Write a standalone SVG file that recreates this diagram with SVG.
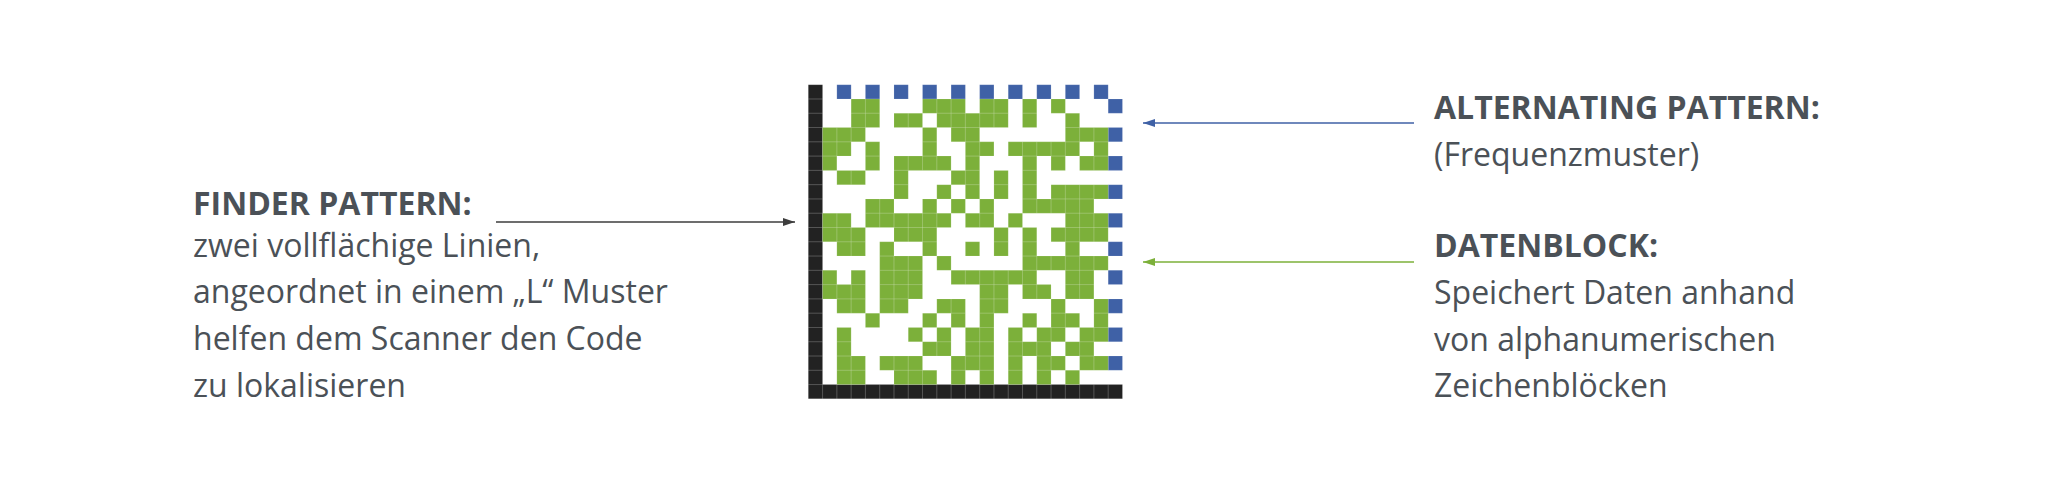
<svg xmlns="http://www.w3.org/2000/svg" width="2048" height="490" viewBox="0 0 2048 490">
<style>
.t{font-family:"Open Sans","Noto Sans","Liberation Sans",sans-serif;font-size:32px;fill:#4b5157}
.h{font-weight:700}
.cell{stroke:#ffffff;stroke-opacity:0.18;stroke-width:0.05}
.k{fill:#222222}.b{fill:#3f61a6}.g{fill:#7cb03a}
.ln{fill:none;stroke-width:1.4}
</style>
<defs>
<marker id="ak" markerUnits="userSpaceOnUse" markerWidth="13" markerHeight="9" refX="12" refY="4" orient="auto"><path d="M0 0L12 4L0 8z" fill="#3d3d3d"/></marker>
<marker id="ab" markerUnits="userSpaceOnUse" markerWidth="13" markerHeight="9" refX="12" refY="4" orient="auto"><path d="M0 0L12 4L0 8z" fill="#3f61a6"/></marker>
<marker id="ag" markerUnits="userSpaceOnUse" markerWidth="13" markerHeight="9" refX="12" refY="4" orient="auto"><path d="M0 0L12 4L0 8z" fill="#7cb03a"/></marker>
</defs>
<rect width="2048" height="490" fill="#ffffff"/>
<g id="datamatrix" transform="translate(808.3 84.7) scale(14.28)">
<path class="cell k" d="M0 0h1v1h-1zM0 1h1v1h-1zM0 2h1v1h-1zM0 3h1v1h-1zM0 4h1v1h-1zM0 5h1v1h-1zM0 6h1v1h-1zM0 7h1v1h-1zM0 8h1v1h-1zM0 9h1v1h-1zM0 10h1v1h-1zM0 11h1v1h-1zM0 12h1v1h-1zM0 13h1v1h-1zM0 14h1v1h-1zM0 15h1v1h-1zM0 16h1v1h-1zM0 17h1v1h-1zM0 18h1v1h-1zM0 19h1v1h-1zM0 20h1v1h-1zM0 21h1v1h-1zM1 21h1v1h-1zM2 21h1v1h-1zM3 21h1v1h-1zM4 21h1v1h-1zM5 21h1v1h-1zM6 21h1v1h-1zM7 21h1v1h-1zM8 21h1v1h-1zM9 21h1v1h-1zM10 21h1v1h-1zM11 21h1v1h-1zM12 21h1v1h-1zM13 21h1v1h-1zM14 21h1v1h-1zM15 21h1v1h-1zM16 21h1v1h-1zM17 21h1v1h-1zM18 21h1v1h-1zM19 21h1v1h-1zM20 21h1v1h-1zM21 21h1v1h-1z"/>
<path class="cell b" d="M2 0h1v1h-1zM4 0h1v1h-1zM6 0h1v1h-1zM8 0h1v1h-1zM10 0h1v1h-1zM12 0h1v1h-1zM14 0h1v1h-1zM16 0h1v1h-1zM18 0h1v1h-1zM20 0h1v1h-1zM21 1h1v1h-1zM21 3h1v1h-1zM21 5h1v1h-1zM21 7h1v1h-1zM21 9h1v1h-1zM21 11h1v1h-1zM21 13h1v1h-1zM21 15h1v1h-1zM21 17h1v1h-1zM21 19h1v1h-1z"/>
<path class="cell g" d="M3 1h1v1h-1zM4 1h1v1h-1zM8 1h1v1h-1zM9 1h1v1h-1zM10 1h1v1h-1zM12 1h1v1h-1zM13 1h1v1h-1zM15 1h1v1h-1zM17 1h1v1h-1z
M3 2h1v1h-1zM4 2h1v1h-1zM6 2h1v1h-1zM7 2h1v1h-1zM9 2h1v1h-1zM10 2h1v1h-1zM11 2h1v1h-1zM12 2h1v1h-1zM13 2h1v1h-1zM15 2h1v1h-1zM18 2h1v1h-1z
M1 3h1v1h-1zM2 3h1v1h-1zM3 3h1v1h-1zM8 3h1v1h-1zM10 3h1v1h-1zM11 3h1v1h-1zM18 3h1v1h-1zM19 3h1v1h-1zM20 3h1v1h-1z
M1 4h1v1h-1zM2 4h1v1h-1zM4 4h1v1h-1zM8 4h1v1h-1zM11 4h1v1h-1zM12 4h1v1h-1zM14 4h1v1h-1zM15 4h1v1h-1zM16 4h1v1h-1zM17 4h1v1h-1zM18 4h1v1h-1zM20 4h1v1h-1z
M1 5h1v1h-1zM4 5h1v1h-1zM6 5h1v1h-1zM7 5h1v1h-1zM8 5h1v1h-1zM9 5h1v1h-1zM11 5h1v1h-1zM15 5h1v1h-1zM17 5h1v1h-1zM19 5h1v1h-1zM20 5h1v1h-1z
M2 6h1v1h-1zM3 6h1v1h-1zM6 6h1v1h-1zM10 6h1v1h-1zM11 6h1v1h-1zM13 6h1v1h-1zM15 6h1v1h-1z
M6 7h1v1h-1zM9 7h1v1h-1zM11 7h1v1h-1zM13 7h1v1h-1zM15 7h1v1h-1zM17 7h1v1h-1zM18 7h1v1h-1zM19 7h1v1h-1zM20 7h1v1h-1z
M4 8h1v1h-1zM5 8h1v1h-1zM8 8h1v1h-1zM10 8h1v1h-1zM12 8h1v1h-1zM15 8h1v1h-1zM16 8h1v1h-1zM17 8h1v1h-1zM18 8h1v1h-1zM19 8h1v1h-1z
M1 9h1v1h-1zM2 9h1v1h-1zM4 9h1v1h-1zM5 9h1v1h-1zM6 9h1v1h-1zM7 9h1v1h-1zM8 9h1v1h-1zM9 9h1v1h-1zM11 9h1v1h-1zM12 9h1v1h-1zM14 9h1v1h-1zM18 9h1v1h-1zM19 9h1v1h-1zM20 9h1v1h-1z
M1 10h1v1h-1zM2 10h1v1h-1zM3 10h1v1h-1zM6 10h1v1h-1zM7 10h1v1h-1zM8 10h1v1h-1zM13 10h1v1h-1zM15 10h1v1h-1zM17 10h1v1h-1zM18 10h1v1h-1zM19 10h1v1h-1zM20 10h1v1h-1z
M2 11h1v1h-1zM3 11h1v1h-1zM5 11h1v1h-1zM8 11h1v1h-1zM11 11h1v1h-1zM13 11h1v1h-1zM15 11h1v1h-1zM18 11h1v1h-1z
M5 12h1v1h-1zM6 12h1v1h-1zM7 12h1v1h-1zM9 12h1v1h-1zM15 12h1v1h-1zM16 12h1v1h-1zM17 12h1v1h-1zM18 12h1v1h-1zM19 12h1v1h-1zM20 12h1v1h-1z
M1 13h1v1h-1zM3 13h1v1h-1zM5 13h1v1h-1zM6 13h1v1h-1zM7 13h1v1h-1zM10 13h1v1h-1zM11 13h1v1h-1zM12 13h1v1h-1zM13 13h1v1h-1zM14 13h1v1h-1zM15 13h1v1h-1zM18 13h1v1h-1zM19 13h1v1h-1z
M1 14h1v1h-1zM2 14h1v1h-1zM3 14h1v1h-1zM5 14h1v1h-1zM6 14h1v1h-1zM7 14h1v1h-1zM12 14h1v1h-1zM13 14h1v1h-1zM15 14h1v1h-1zM16 14h1v1h-1zM18 14h1v1h-1zM19 14h1v1h-1z
M2 15h1v1h-1zM3 15h1v1h-1zM5 15h1v1h-1zM6 15h1v1h-1zM9 15h1v1h-1zM10 15h1v1h-1zM12 15h1v1h-1zM13 15h1v1h-1zM17 15h1v1h-1zM20 15h1v1h-1z
M4 16h1v1h-1zM8 16h1v1h-1zM10 16h1v1h-1zM12 16h1v1h-1zM15 16h1v1h-1zM17 16h1v1h-1zM18 16h1v1h-1zM20 16h1v1h-1z
M2 17h1v1h-1zM7 17h1v1h-1zM9 17h1v1h-1zM11 17h1v1h-1zM12 17h1v1h-1zM14 17h1v1h-1zM16 17h1v1h-1zM17 17h1v1h-1zM19 17h1v1h-1zM20 17h1v1h-1z
M2 18h1v1h-1zM8 18h1v1h-1zM9 18h1v1h-1zM11 18h1v1h-1zM12 18h1v1h-1zM14 18h1v1h-1zM15 18h1v1h-1zM16 18h1v1h-1zM18 18h1v1h-1zM19 18h1v1h-1z
M2 19h1v1h-1zM3 19h1v1h-1zM5 19h1v1h-1zM6 19h1v1h-1zM7 19h1v1h-1zM10 19h1v1h-1zM11 19h1v1h-1zM12 19h1v1h-1zM14 19h1v1h-1zM16 19h1v1h-1zM17 19h1v1h-1zM19 19h1v1h-1zM20 19h1v1h-1z
M2 20h1v1h-1zM3 20h1v1h-1zM6 20h1v1h-1zM7 20h1v1h-1zM8 20h1v1h-1zM10 20h1v1h-1zM12 20h1v1h-1zM14 20h1v1h-1zM16 20h1v1h-1zM18 20h1v1h-1z"/>
</g>
<g id="connectors">
<line class="ln" x1="496" y1="222" x2="795" y2="222" stroke="#3d3d3d" marker-end="url(#ak)"/>
<line class="ln" x1="1414" y1="123" x2="1143" y2="123" stroke="#3f61a6" marker-end="url(#ab)"/>
<line class="ln" x1="1414" y1="262" x2="1143" y2="262" stroke="#7cb03a" marker-end="url(#ag)"/>
</g>
<g id="finder-label">
<text class="t h" x="193" y="215">FINDER PATTERN:</text>
<text class="t" x="193" y="257">zwei vollflächige Linien,</text>
<text class="t" x="193" y="303">angeordnet in einem „L“ Muster</text>
<text class="t" x="193" y="350">helfen dem Scanner den Code</text>
<text class="t" x="193" y="397">zu lokalisieren</text>
</g>
<g id="alternating-label">
<text class="t h" x="1434" y="119">ALTERNATING PATTERN:</text>
<text class="t" x="1434" y="166">(Frequenzmuster)</text>
</g>
<g id="datenblock-label">
<text class="t h" x="1434" y="257">DATENBLOCK:</text>
<text class="t" x="1434" y="304">Speichert Daten anhand</text>
<text class="t" x="1434" y="351">von alphanumerischen</text>
<text class="t" x="1434" y="397">Zeichenblöcken</text>
</g>
</svg>
